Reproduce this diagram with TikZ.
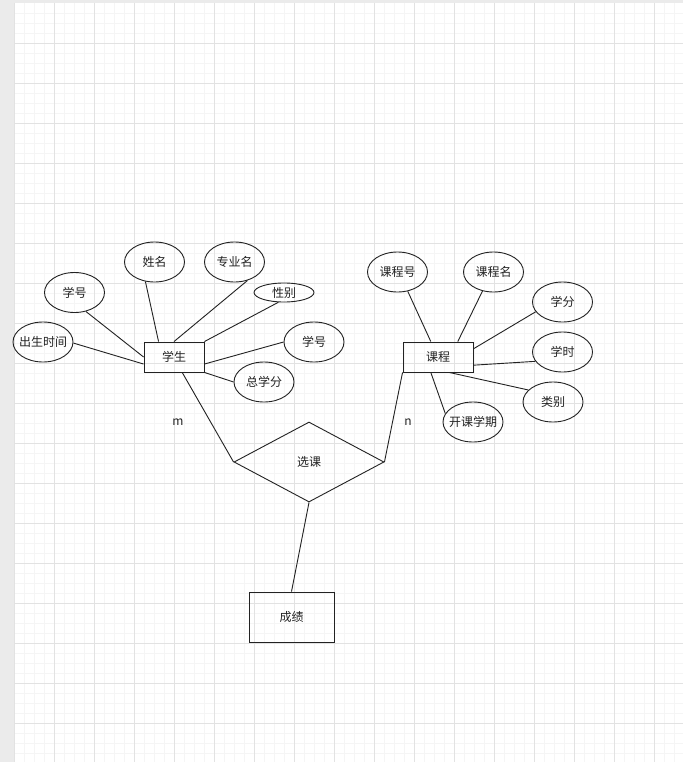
\documentclass[tikz,border=0pt]{standalone}
\usepackage{fontspec}
\newfontfamily\cjk{Noto Sans CJK SC}
\usetikzlibrary{shapes.geometric}
\definecolor{pagegray}{HTML}{EBEBEB}
\definecolor{minorgrid}{HTML}{F5F5F5}
\definecolor{majorgrid}{HTML}{E2E2E2}
\definecolor{ink}{HTML}{222222}
\begin{document}
\begin{tikzpicture}[x=1pt, y=-1pt,
    every node/.style={font=\cjk\fontsize{12}{14}\selectfont, text=ink},
    entity/.style={draw=ink, line width=0.9pt, rectangle, inner sep=0pt},
    attr/.style={draw=ink, line width=0.9pt, ellipse, minimum width=60pt, minimum height=40pt, inner xsep=-3pt, inner ysep=0pt},
    rel/.style={draw=ink, line width=0.9pt, diamond, minimum width=150pt, minimum height=80pt, aspect=1.875, inner sep=0pt},
    link/.style={draw=ink, line width=0.9pt}]
  \useasboundingbox (0,0) rectangle (683,762);

  % page and grid
  \fill[pagegray] (0,0) rectangle (683,762);
  \fill[white] (14,3) rectangle (683,762);
  \foreach \x in {24,34,...,683}
    \draw[minorgrid, line width=0.6pt] (\x,3) -- (\x,762);
  \foreach \y in {13,23,...,762}
    \draw[minorgrid, line width=0.6pt] (14,\y) -- (683,\y);
  \foreach \x in {14,54,...,683}
    \draw[majorgrid, line width=0.8pt] (\x,3) -- (\x,762);
  \foreach \y in {43,83,...,762}
    \draw[majorgrid, line width=0.8pt] (14,\y) -- (683,\y);

  % entities and relationship
  \node[entity, minimum width=60pt, minimum height=30pt] (stu) at (174,357) {学生};
  \node[entity, minimum width=70pt, minimum height=30pt] (crs) at (438,357) {课程};
  \node[rel] (xk) at (309,462) {选课};
  \node[entity, minimum width=85pt, minimum height=50pt] (cj) at (291.5,617) {成绩};

  % student attributes
  \node[attr] (sxh) at (74.5,292.5) {学号};
  \node[attr] (scs) at (43,342) {出生时间};
  \node[attr] (sxm) at (154.5,262) {姓名};
  \node[attr] (szy) at (234.5,262) {专业名};
  \node[attr, minimum height=19pt] (sxb) at (284,292.5) {性别};
  \node[attr] (sxh2) at (314,342) {学号};
  \node[attr] (szx) at (264,382) {总学分};

  % course attributes
  \node[attr] (ckh) at (397.5,272) {课程号};
  \node[attr] (ckm) at (493.5,272) {课程名};
  \node[attr] (cxf) at (562.5,302) {学分};
  \node[attr] (cxs) at (562.5,352) {学时};
  \node[attr] (clb) at (553,402) {类别};
  \node[attr] (ckq) at (473,422) {开课学期};

  % cardinalities
  \node (m) at (178,422) {m};
  \node (n) at (408,422) {n};

  % student links
  \draw[link] (sxh.301) -- (stu.180);
  \draw[link] (scs.358) -- (stu.193);
  \draw[link] (sxm.245) -- (stu.135);
  \draw[link] (szy.305) -- (stu.90);
  \draw[link] (sxb.240) -- (stu.north east);
  \draw[link] (sxh2.180) -- (stu.-13);
  \draw[link] (szx.180) -- (stu.south east);

  % course links
  \draw[link] (ckh.298) -- (crs.115);
  \draw[link] (ckm.240) -- (crs.38);
  \draw[link] (cxf.200) -- (crs.13);
  \draw[link] (cxs.199) -- (crs.-13);
  \draw[link] (clb.154) -- (crs.306);
  \draw[link] (ckq.163) -- (crs.245);

  % relationship links
  \draw[link] (stu.-62) -- (xk.west);
  \draw[link] (crs.south west) -- (xk.east);
  \draw[link] (xk.south) -- (cj.north);
\end{tikzpicture}
\end{document}
